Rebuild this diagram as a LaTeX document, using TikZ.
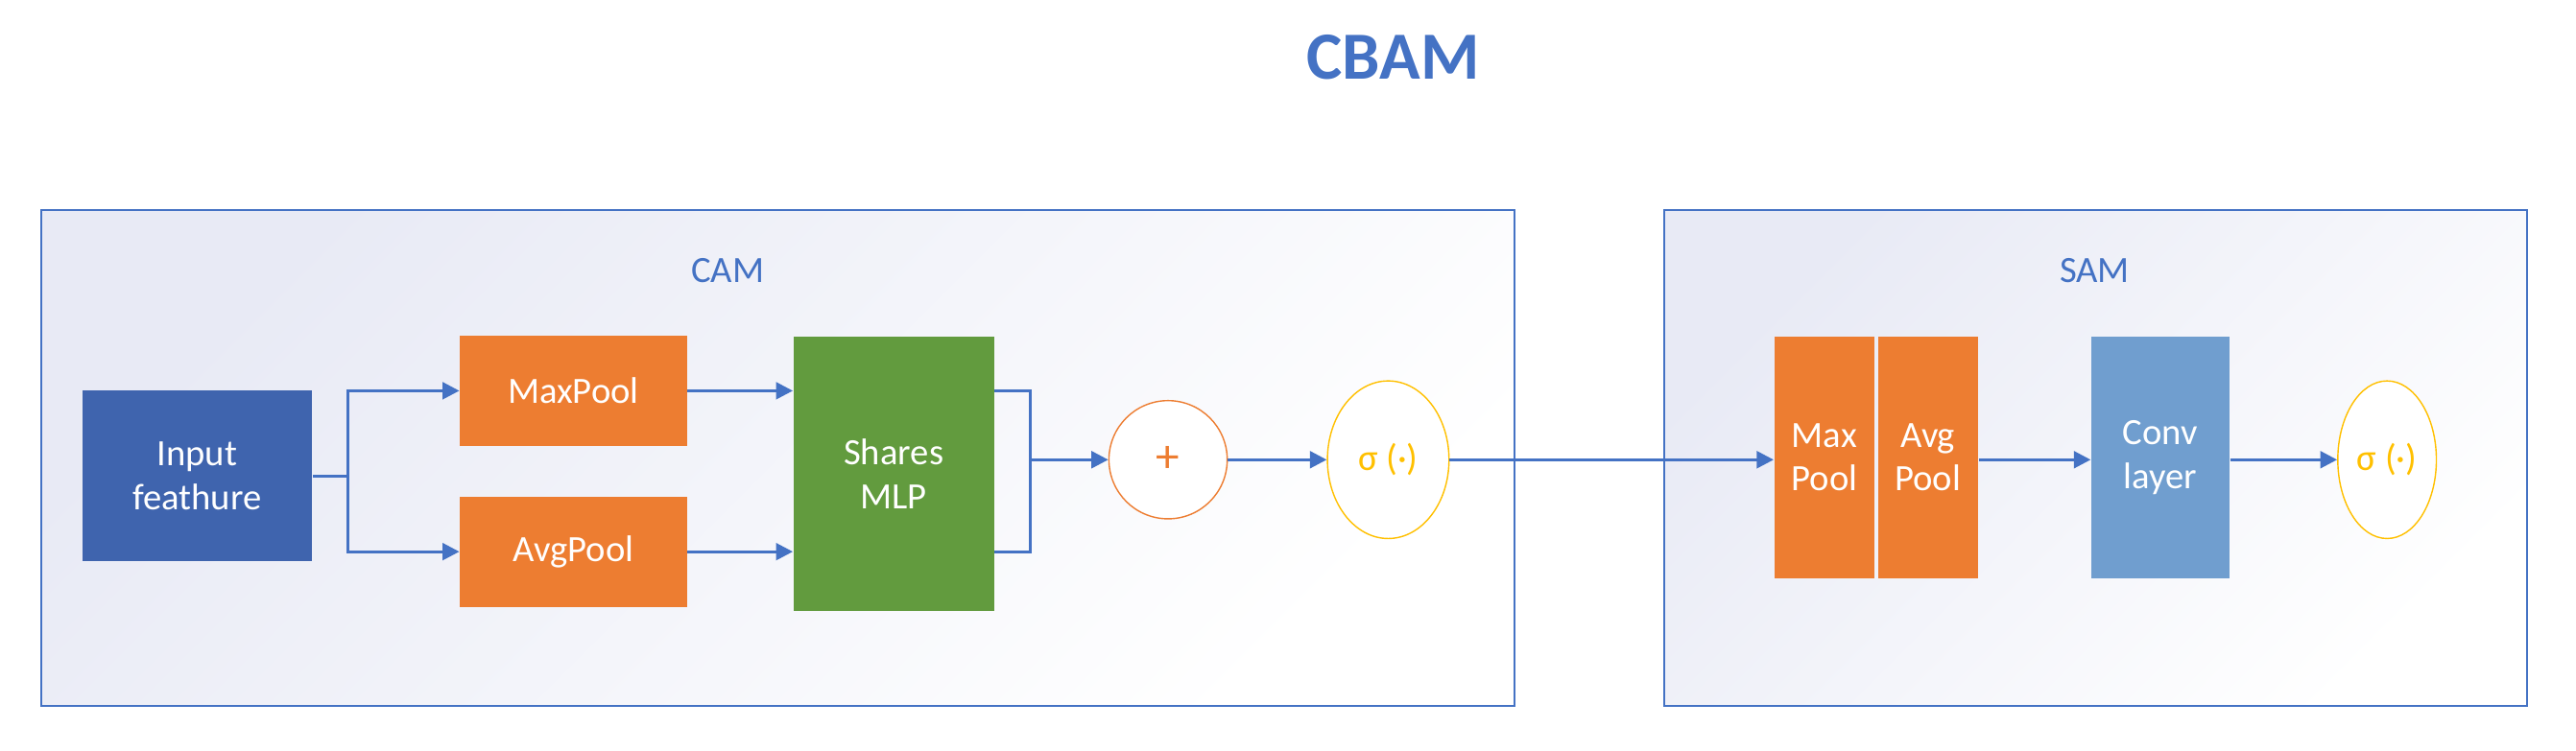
\documentclass[tikz,border=0pt]{standalone}
\usepackage{fontspec}
\setmainfont{Carlito}
\usetikzlibrary{arrows.meta,shapes.geometric}
\definecolor{ublue}{HTML}{4472C4}
\definecolor{dblue}{HTML}{3F64AE}
\definecolor{uorange}{HTML}{ED7D31}
\definecolor{ugreen}{HTML}{629B3E}
\definecolor{lblue}{HTML}{709ECF}
\definecolor{uyellow}{HTML}{FFC000}
\definecolor{lav}{HTML}{E8EAF5}
\begin{document}
\begin{tikzpicture}[x=0.01712cm,y=-0.01712cm,
  blk/.style={draw=none,text=white,font=\fontsize{11}{13}\selectfont,align=center,inner sep=0pt},
  panel/.style={draw=ublue,line width=0.6pt,left color=lav,right color=white,shading angle=45},
  arr/.style={ublue,line width=0.9pt,-{Triangle[length=5pt,width=5pt]}},
  ln/.style={ublue,line width=0.9pt}]
\useasboundingbox (0,0) rectangle (1568,457);
\node[text=ublue,font=\fontsize{20}{24}\selectfont\bfseries] (title) at (848,35) {CBAM};
\path[panel] (25,128) rectangle (922,430);
\path[panel] (1013,128) rectangle (1538,430);
\node[text=ublue,font=\fontsize{11}{13}\selectfont] (cam) at (443,165) {CAM};
\node[text=ublue,font=\fontsize{11}{13}\selectfont] (sam) at (1275,165) {SAM};
\node[blk,fill=dblue,minimum width=140*0.01712cm,minimum height=104*0.01712cm] (in) at (120,290) {Input\\feathure};
\node[blk,fill=uorange,minimum width=138*0.01712cm,minimum height=67*0.01712cm] (mp) at (349,238) {MaxPool};
\node[blk,fill=uorange,minimum width=138*0.01712cm,minimum height=67*0.01712cm] (ap) at (349,336) {AvgPool};
\node[blk,fill=ugreen,minimum width=122*0.01712cm,minimum height=167*0.01712cm] (mlp) at (544,288.5) {Shares\\MLP};
\node[circle,draw=uorange,fill=white,text=uorange,minimum size=72*0.01712cm,inner sep=0pt,font=\fontsize{14}{16}\selectfont] (plus) at (711,280) {+};
\node[ellipse,draw=uyellow,fill=white,text=uyellow,minimum width=74*0.01712cm,minimum height=96*0.01712cm,inner sep=0pt,font=\fontsize{11}{13}\selectfont] (s1) at (845,280) {σ (·)};
\node[blk,fill=uorange,minimum width=61*0.01712cm,minimum height=147*0.01712cm] (mx) at (1110.5,278.5) {Max\\Pool};
\node[blk,fill=uorange,minimum width=61*0.01712cm,minimum height=147*0.01712cm] (av) at (1173.5,278.5) {Avg\\Pool};
\node[blk,fill=lblue,minimum width=84*0.01712cm,minimum height=147*0.01712cm] (conv) at (1315,278.5) {Conv\\layer};
\node[ellipse,draw=uyellow,fill=white,text=uyellow,minimum width=60*0.01712cm,minimum height=96*0.01712cm,inner sep=0pt,font=\fontsize{11}{13}\selectfont] (s2) at (1453,280) {σ (·)};
\coordinate (sp) at (212,290);
\coordinate (mj) at (627,280);
\draw[ln] (in.east) -- (sp);
\draw[arr] (sp) |- (mp.west);
\draw[arr] (sp) |- (ap.west);
\draw[arr] (mp.east) -- (mp.east -| mlp.west);
\draw[arr] (ap.east) -- (ap.east -| mlp.west);
\draw[ln] (mlp.east |- mp.east) -| (mj) |- (mlp.east |- ap.east);
\draw[arr] (mj) -- (plus.west);
\draw[arr] (plus.east) -- (s1.west);
\draw[arr] (s1.east) -- (mx.west |- s1.east);
\draw[arr] (av.east |- s1.east) -- (conv.west |- s1.east);
\draw[arr] (conv.east |- s2.west) -- (s2.west);
\end{tikzpicture}
\end{document}
